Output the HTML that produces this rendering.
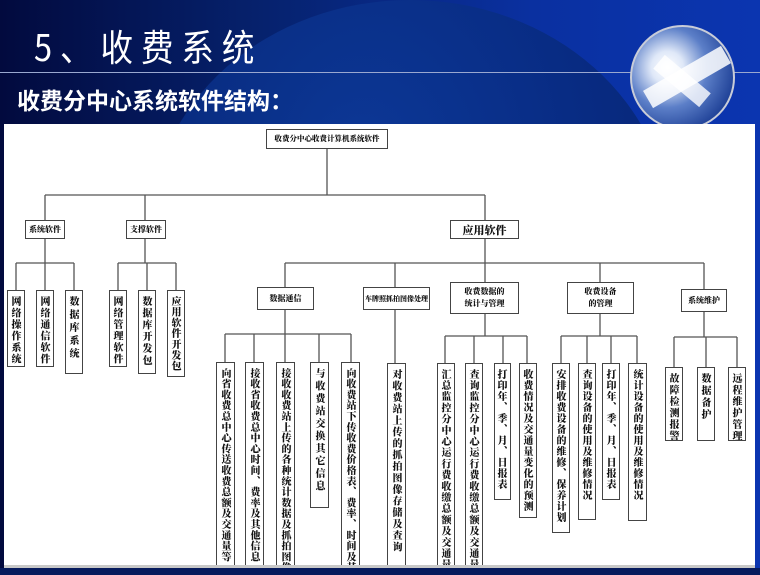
<!DOCTYPE html>
<html style="overflow:hidden;width:760px;height:575px"><head><meta charset="utf-8">
<style>
*{margin:0;padding:0;box-sizing:border-box}
html,body{width:760px;height:575px;overflow:hidden}
body{position:relative;
background:linear-gradient(90deg,#020a3e 0%,#06226e 35%,#0a30a0 70%,#0b35b0 100%);
font-family:"Liberation Sans","Noto Sans CJK SC",sans-serif}
.arc{position:absolute;left:150px;top:0;width:520px;height:575px;border-radius:50% 50% 0 0/ 40% 40% 0 0;
background:radial-gradient(ellipse at 40% 30%,#0d3a9a 0%,#082b80 50%,#061f66 100%);opacity:.9}
.hl{position:absolute;left:0;top:72px;width:760px;height:1px;background:#9aa8d0}
.t1{position:absolute;left:34px;top:18px;color:#fff;font-size:37px;font-family:"Noto Sans CJK SC",sans-serif;font-weight:400;transform:scaleX(.88);transform-origin:left;letter-spacing:9px}
.t2{position:absolute;left:17px;top:82px;color:#fff;font-size:23px;font-weight:bold;font-family:"Noto Sans CJK SC",sans-serif}
.globe{position:absolute;left:630px;top:25px;width:105px;height:105px;border-radius:50%;border:2px solid #c8ccd8;
background:radial-gradient(circle at 35% 40%,#ffffff 0%,#dfe8f8 18%,#5c7fc8 45%,#23459a 75%,#132c70 100%);overflow:hidden}
.globe:after{content:"";position:absolute;left:10px;top:40px;width:90px;height:20px;background:#fff;transform:rotate(-30deg);opacity:.85}
.globe:before{content:"";position:absolute;left:20px;top:45px;width:60px;height:18px;background:#fff;transform:rotate(40deg);opacity:.8}
.paper{position:absolute;left:4px;top:124px;width:751px;height:444px;background:#fff;overflow:hidden}
.sb{position:absolute;left:4px;top:565px;width:751px;height:4px;background:#c8c8c8;z-index:3}
.b{position:absolute;z-index:2;border:1.3px solid #444;background:#fff;color:#111;font-family:"Noto Serif CJK SC","Noto Sans CJK SC",serif;font-weight:900;
display:flex;align-items:center;justify-content:center;text-align:center;font-size:8.5px;line-height:12px;white-space:nowrap;overflow:hidden}
.v{position:absolute;z-index:2;border:1.3px solid #444;background:#fff;color:#111;font-family:"Noto Serif CJK SC","Noto Sans CJK SC",serif;font-weight:900;
writing-mode:vertical-rl;font-size:10px;line-height:16px;padding-top:5px;white-space:nowrap;overflow:hidden}
svg{position:absolute;left:0;top:0}
</style></head><body>
<div class="arc"></div>
<div class="hl"></div>
<div class="t1">5、收费系统</div>
<div class="t2">收费分中心系统软件结构：</div>
<div class="globe"></div>
<div class="paper">
<svg width="751" height="444" viewBox="4 124 751 444">
<g stroke="#555" stroke-width="1.3" fill="none">
<path d="M327 149V195M45 195H485M45 195V220M145 195V220M485 195V220"/>
<path d="M45 239V263M16 263H74M16 263V290M45 263V290M74 263V290"/>
<path d="M145 239V263M118 263H176M118 263V290M147 263V290M176 263V290"/>
<path d="M485 239V263M285 263H704M285 263V287M395 263V287M485 263V282M600 263V282M704 263V289"/>
<path d="M285 310V334M225 334H351M225 334V362M254 334V362M285 334V362M319 334V362M351 334V362"/>
<path d="M395 310V363"/>
<path d="M485 314V336M445 336H527M445 336V363M474 336V363M503 336V363M527 336V363"/>
<path d="M600 314V336M561 336H637M561 336V363M587 336V363M611 336V363M637 336V363"/>
<path d="M704 312V337M674 337H737M674 337V367M706 337V367M737 337V367"/>
</g>
</svg>
</div>
<div class="b" style="left:266px;top:129px;width:122px;height:20px;font-size:7.5px">收费分中心收费计算机系统软件</div>
<div class="b" style="left:25px;top:220px;width:40px;height:19px;font-size:8px">系统软件</div>
<div class="b" style="left:126px;top:220px;width:40px;height:19px;font-size:8px">支撑软件</div>
<div class="b" style="left:450px;top:220px;width:69px;height:19px;font-size:11px">应用软件</div>
<div class="b" style="left:257px;top:287px;width:57px;height:23px;font-size:8px">数据通信</div>
<div class="b" style="left:363px;top:287px;width:67px;height:23px;font-size:7px">车牌照抓拍图像处理</div>
<div class="b" style="left:450px;top:282px;width:69px;height:32px;font-size:8px">收费数据的<br>统计与管理</div>
<div class="b" style="left:567px;top:282px;width:67px;height:32px;font-size:8px">收费设备<br>的管理</div>
<div class="b" style="left:681px;top:289px;width:46px;height:23px;font-size:8px">系统维护</div>

<div class="v" style="left:7px;top:290px;width:18px;height:77px;letter-spacing:1.5px">网络操作系统</div>
<div class="v" style="left:36px;top:290px;width:18px;height:77px;letter-spacing:1.5px">网络通信软件</div>
<div class="v" style="left:65px;top:290px;width:18px;height:84px;letter-spacing:3px">数据库系统</div>
<div class="v" style="left:109px;top:290px;width:18px;height:77px;letter-spacing:1.5px">网络管理软件</div>
<div class="v" style="left:138px;top:290px;width:18px;height:84px;letter-spacing:1.8px">数据库开发包</div>
<div class="v" style="left:167px;top:290px;width:18px;height:87px;letter-spacing:.8px">应用软件开发包</div>

<div class="v" style="left:216px;top:362px;width:19px;height:206px;letter-spacing:.8px">向省收费总中心传送收费总额及交通量等</div>
<div class="v" style="left:245px;top:362px;width:19px;height:206px;letter-spacing:.8px">接收省收费总中心时间、费率及其他信息</div>
<div class="v" style="left:276px;top:362px;width:19px;height:206px;letter-spacing:.8px">接收收费站上传的各种统计数据及抓拍图像</div>
<div class="v" style="left:310px;top:362px;width:19px;height:146px;letter-spacing:2.5px">与收费站交换其它信息</div>
<div class="v" style="left:341px;top:362px;width:19px;height:206px;letter-spacing:.8px">向收费站下传收费价格表、费率、时间及其他</div>
<div class="v" style="left:387px;top:363px;width:19px;height:205px;letter-spacing:1.5px">对收费站上传的抓拍图像存储及查询</div>

<div class="v" style="left:437px;top:363px;width:18px;height:205px;letter-spacing:1.2px">汇总监控分中心运行费收缴总额及交通量</div>
<div class="v" style="left:465px;top:363px;width:18px;height:205px;letter-spacing:1.2px">查询监控分中心运行费收缴总额及交通量</div>
<div class="v" style="left:494px;top:363px;width:17px;height:137px;letter-spacing:1px">打印年、季、月、日报表</div>
<div class="v" style="left:519px;top:363px;width:18px;height:155px;letter-spacing:1px">收费情况及交通量变化的预测</div>

<div class="v" style="left:552px;top:363px;width:18px;height:170px;letter-spacing:1px">安排收费设备的维修、保养计划</div>
<div class="v" style="left:578px;top:363px;width:18px;height:157px;letter-spacing:1px">查询设备的使用及维修情况</div>
<div class="v" style="left:602px;top:363px;width:18px;height:137px;letter-spacing:1px">打印年、季、月、日报表</div>
<div class="v" style="left:628px;top:363px;width:19px;height:158px;letter-spacing:1px">统计设备的使用及维修情况</div>

<div class="v" style="left:665px;top:367px;width:18px;height:74px;letter-spacing:1.5px">故障检测报警</div>
<div class="v" style="left:697px;top:367px;width:18px;height:74px;letter-spacing:2px">数据备护</div>
<div class="v" style="left:728px;top:367px;width:18px;height:74px;letter-spacing:1.5px">远程维护管理</div>
<div class="sb"></div>
<div style="position:absolute;left:0;top:568px;width:760px;height:7px;background:#061a5c;z-index:4"></div>
</body></html>
